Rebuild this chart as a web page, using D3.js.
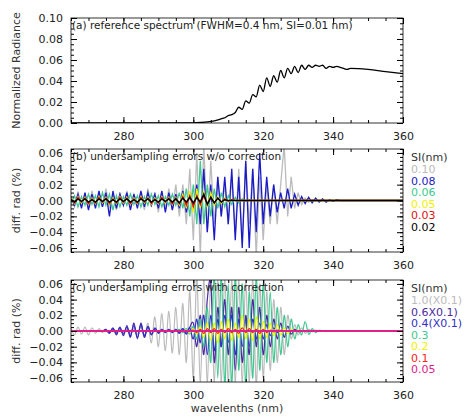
<!DOCTYPE html>
<html><head><meta charset="utf-8">
<script src="https://cdn.jsdelivr.net/npm/d3@7"></script>
<style>body{margin:0;background:#fff}text{font-family:"DejaVu Sans",sans-serif}</style>
</head><body><svg id="c" width="474" height="420"></svg>
<script>
// Panel (a) reference spectrum
const specWl = [265,280,295,300,302,304,306,308,309,310,311,312,313,314,315,316,317,318,319,320,321,322,323,324,325,326,327,328,329,330,331,332,333,334,335,336,337,338,339,340,341,342,343,344,345,350,355,360];
const specVal = [0,0,0,0.0002,0.0005,0.001,0.002,0.004,0.005,0.007,0.008,0.010,0.015,0.013,0.021,0.019,0.027,0.025,0.036,0.030,0.043,0.035,0.045,0.039,0.050,0.043,0.052,0.047,0.054,0.048,0.055,0.051,0.055,0.053,0.055,0.054,0.055,0.052,0.054,0.053,0.054,0.053,0.052,0.051,0.052,0.051,0.049,0.047];
// Panel (b): errors without correction, values in %, 1 nm steps from 265 nm
const bStart = 265;
const b010 = [0.005,-0.008,0.01,-0.005,0.008,-0.01,0.012,-0.006,0.01,-0.008,0.015,-0.01,0.008,-0.012,0.01,-0.006,0.012,-0.01,0.008,-0.005,0.01,-0.012,0.015,-0.008,0.01,-0.015,0.012,-0.01,0.015,-0.012,0.02,-0.02,0.02,-0.03,0.04,-0.05,0.06,-0.07,0.07,-0.04,0.05,-0.03,0.03,-0.02,0.02,-0.03,0.03,-0.04,0.04,-0.05,0.05,-0.03,0.04,-0.07,0.03,-0.05,0.02,-0.03,0.02,-0.03,0.02,0.07,-0.02,0.03,-0.01,0.01,-0.005,0.003,-0.002,0.001,0,0];
const b008 = [0.004,-0.006,0.008,-0.01,0.01,-0.012,0.008,-0.01,0.012,-0.008,0.01,-0.02,0.012,-0.01,0.008,-0.006,0.01,-0.012,0.008,-0.01,0.012,-0.008,0.01,-0.006,0.008,-0.01,0.012,-0.015,0.01,-0.012,0.008,-0.01,0.012,-0.015,0.01,-0.012,0.02,-0.03,0.04,-0.04,0.02,-0.05,0.03,-0.02,0.03,-0.03,0.04,-0.05,0.03,-0.06,0.05,-0.06,0.04,-0.04,0.06,-0.03,0.03,-0.02,0.02,-0.015,0.01,-0.01,0.015,-0.01,0.008,-0.006,0.005,-0.004,0.004,-0.003,0.003,-0.002,0.002,-0.002,0.001,-0.001,0.001,0,0,0,0];
const b006 = [-0.004,0.006,-0.008,0.005,-0.006,0.008,-0.005,0.006,-0.008,0.01,-0.006,0.008,-0.012,0.006,-0.008,0.005,-0.006,0.008,-0.005,0.006,-0.008,0.005,-0.006,0.008,-0.005,0.006,-0.008,0.005,-0.006,0.008,-0.006,0.01,-0.01,0.015,-0.02,0.02,-0.03,0.05,-0.03,0.02,-0.02,0.015,-0.01,0.01,-0.008,0.006,-0.005,0.004,-0.003,0.002,-0.001,0.001,0,0];
const b005 = [0.003,-0.004,0.005,-0.003,0.004,-0.005,0.003,-0.004,0.005,-0.003,0.004,-0.005,0.003,-0.004,0.005,-0.003,0.004,-0.005,0.003,-0.004,0.005,-0.003,0.004,-0.005,0.003,-0.004,0.005,-0.003,0.004,-0.005,0.004,-0.006,0.008,-0.01,0.012,-0.015,0.015,-0.01,0.012,-0.008,0.01,-0.006,0.005,-0.004,0.003,-0.002,0.001,0,0];
const b003 = [0.002,-0.003,0.004,-0.002,0.003,-0.004,0.002,-0.003,0.004,-0.002,0.003,-0.004,0.002,-0.003,0.004,-0.002,0.003,-0.004,0.002,-0.003,0.004,-0.002,0.003,-0.004,0.002,-0.003,0.004,-0.002,0.003,-0.004,0.003,-0.004,0.005,-0.006,0.006,-0.008,0.006,-0.005,0.006,-0.004,0.004,-0.003,0.003,-0.002,0.002,-0.001,0.001,0,0,0,0];
const b002 = [0.001,-0.002,0.002,-0.001,0.002,-0.002,0.001,-0.002,0.002,-0.001,0.002,-0.002,0.001,-0.002,0.002,-0.001,0.002,-0.002,0.001,-0.002,0.002,-0.001,0.002,-0.002,0.001,-0.002,0.002,-0.001,0.002,-0.002,0.002,-0.003,0.003,-0.002,0.004,-0.003,0.004,-0.002,0.008,-0.005,0.004,-0.003,0.003,-0.002,0.001,0,0];
// Panel (c): errors with correction, 1 nm steps from 265 nm
const cStart = 265;
const c10 = [0.004,-0.005,0.005,-0.004,0.005,-0.005,0.004,-0.003,0.003,-0.002,0.002,-0.002,0.002,-0.002,0.002,-0.002,0.002,-0.003,0.003,-0.004,0.005,-0.008,0.01,-0.015,0.018,-0.02,0.022,-0.025,0.025,-0.028,0.03,-0.03,0.035,-0.04,0.05,-0.06,0.07,-0.07,0.07,-0.07,0.07,-0.07,0.07,-0.07,0.07,-0.07,0.07,-0.07,0.07,-0.07,0.07,-0.07,0.07,-0.07,0.06,-0.06,0.05,-0.05,0.04,-0.04,0.03,-0.03,0.02,-0.01,0.008,-0.005,0.004,-0.003,0.002,-0.001,0.001,0,0];
const c06 = [0,0,0,0,0,0,0,0,0,0,0.002,-0.003,0.004,-0.005,0.005,-0.006,0.007,-0.008,0.01,-0.01,0.01,-0.008,0.006,-0.005,0.004,-0.003,0.002,-0.002,0.002,-0.002,0.002,-0.003,0.003,-0.004,0.005,0.01,-0.02,0.02,-0.03,0.04,0.06,-0.04,0.03,-0.02,0.04,-0.03,0.03,-0.05,0.03,-0.04,0.02,-0.03,0.04,-0.02,0.03,-0.03,0.02,-0.02,0.015,-0.01,0.01,-0.008,0.006,-0.004,0.002,-0.001,0,0];
const c04 = [0,0,0,0,0,0,0,0,0,0,0.001,-0.002,0.003,-0.003,0.004,-0.004,0.005,-0.006,0.007,-0.008,0.008,-0.006,0.005,-0.004,0.003,-0.002,0.002,-0.002,0.002,-0.002,0.002,-0.002,0.003,-0.003,0.004,-0.01,0.015,-0.015,0.02,-0.03,0.02,-0.025,0.015,-0.02,0.02,-0.015,0.02,-0.03,0.015,-0.02,0.015,-0.02,0.015,-0.01,0.01,-0.01,0.008,-0.006,0.004,-0.002,0.001,0,0];
const c03 = [0,0,0,0,0,0,0,0,0,0,0,0,0,0,0,0,0,0,0,0,0,0,0,0,0,0,0,0,0,0,0,0.002,-0.002,0.003,-0.004,0.006,-0.01,0.015,-0.02,0.03,-0.04,0.07,-0.06,0.07,-0.07,0.06,-0.07,0.07,-0.05,0.06,-0.07,0.05,-0.06,0.07,-0.05,0.06,-0.04,0.05,-0.04,0.03,-0.03,0.02,-0.02,0.015,-0.01,0.008,-0.005,0.012,-0.004,0.003,-0.002,0.001,0,0];
const c02 = [0,0,0,0,0,0,0,0,0,0,0,0,0,0,0,0,0,0,0,0,0,0,0,0,0,0,0,0,0,0,0,0,0,0.001,-0.002,0.003,-0.004,0.005,-0.008,0.01,-0.012,0.01,-0.015,0.012,-0.01,0.015,-0.012,0.01,-0.008,0.02,-0.01,0.015,-0.012,0.018,-0.01,0.012,-0.008,0.01,-0.006,0.008,-0.005,0.004,-0.003,0.002,-0.001,0.001,0,0];
const c01 = [0,0,0,0,0,0,0,0,0,0,0,0,0,0,0,0,0,0,0,0,0,0,0,0,0,0,0,0,0,0,0,0,0,0,0,0.001,-0.002,0.002,-0.003,0.003,-0.002,0.003,-0.003,0.002,-0.002,0.003,-0.002,0.002,-0.003,0.004,-0.002,0.003,-0.002,0.002,-0.003,0.002,-0.002,0.001,-0.001,0.001,0,0];
const c005 = [0,0];
const xTicks = [280,300,320,340,360];
const legendB = ["0.10","0.08","0.06","0.05","0.03","0.02"];
const legendC = ["1.0(X0.1)","0.6X0.1)","0.4(X0.1)","0.3","0.2","0.1","0.05"];

const svg = d3.select("#c");
const X0 = 71, X1 = 403;
const x = d3.scaleLinear().domain([265,360]).range([X0,X1]);
const toPts = (start, vals) => vals.map((v,i)=>[start+i, v]);
let clipN = 0;
function panel(top, bottom, ydom, yticks, fmt, ylabel, title, series, legend){
  const y = d3.scaleLinear().domain(ydom).range([bottom, top]);
  const id = "clip"+(clipN++);
  svg.append("clipPath").attr("id",id).append("rect").attr("x",X0).attr("y",top).attr("width",X1-X0).attr("height",bottom-top);
  const g = svg.append("g").attr("clip-path",`url(#${id})`);
  series.forEach(s=>{
    g.append("path").datum(s.pts).attr("fill","none").attr("stroke",s.color).attr("stroke-width",s.w||1.2)
      .attr("d", d3.line().x(d=>x(d[0])).y(d=>y(d[1])).curve(s.curve||d3.curveLinear));
  });
  svg.append("rect").attr("x",X0).attr("y",top).attr("width",X1-X0).attr("height",bottom-top).attr("fill","none").attr("stroke","#000").attr("stroke-width",0.8);
  const minorX = d3.range(265,361,5);
  const ax = (sel)=>sel.attr("font-size",11).call(g=>g.select(".domain").remove());
  svg.append("g").attr("transform",`translate(0,${bottom})`).call(d3.axisBottom(x).tickValues(xTicks).tickSize(-6).tickPadding(9)).call(ax);
  svg.append("g").attr("transform",`translate(0,${bottom})`).call(d3.axisBottom(x).tickValues(minorX).tickSize(-3).tickFormat("")).call(ax);
  svg.append("g").attr("transform",`translate(0,${top})`).call(d3.axisTop(x).tickValues(xTicks).tickSize(-6).tickFormat("")).call(ax);
  svg.append("g").attr("transform",`translate(0,${top})`).call(d3.axisTop(x).tickValues(minorX).tickSize(-3).tickFormat("")).call(ax);
  const step = yticks[1]-yticks[0];
  const minorY = d3.range(ydom[0], ydom[1]+1e-9, step/4);
  svg.append("g").attr("transform",`translate(${X0},0)`).call(d3.axisLeft(y).tickValues(yticks).tickSize(-6).tickPadding(8).tickFormat(fmt)).call(ax);
  svg.append("g").attr("transform",`translate(${X0},0)`).call(d3.axisLeft(y).tickValues(minorY).tickSize(-3).tickFormat("")).call(ax);
  svg.append("g").attr("transform",`translate(${X1},0)`).call(d3.axisRight(y).tickValues(yticks).tickSize(-6).tickFormat("")).call(ax);
  svg.append("g").attr("transform",`translate(${X1},0)`).call(d3.axisRight(y).tickValues(minorY).tickSize(-3).tickFormat("")).call(ax);
  svg.selectAll(".tick text").attr("fill","#222");
  svg.append("text").attr("x",72).attr("y",top+11).attr("font-size",10.5).attr("fill","#222").text(title);
  svg.append("text").attr("transform",`translate(20,${(top+bottom)/2}) rotate(-90)`).attr("text-anchor","middle").attr("font-size",11).attr("fill","#333").text(ylabel);
  if(legend){
    svg.append("text").attr("x",411).attr("y",top+12).attr("font-size",11).attr("fill","#333").text("SI(nm)");
    legend.forEach((l,i)=>svg.append("text").attr("x",411).attr("y",top+24+i*11.5).attr("font-size",11).attr("fill",l.color).text(l.label));
  }
}
const f2 = d3.format(".2f");
const fneg = v => (v<0?"\u2212":"")+f2(Math.abs(v));
panel(18,123,[0,0.1],[0,0.02,0.04,0.06,0.08,0.10],f2,"Normalized Radiance","(a) reference spectrum (FWHM=0.4 nm, SI=0.01 nm)",
  [{pts: specWl.map((w,i)=>[w,specVal[i]]), color:"#000", w:1.3, curve:d3.curveMonotoneX}], null);
const bCols = ["#bbbbbb","#1a1ac8","#40c890","#f0f000","#e01010","#000"];
const bSer = [b010,b008,b006,b005,b003,b002];
panel(149,252,[-0.065,0.065],[-0.06,-0.04,-0.02,0,0.02,0.04,0.06],fneg,"diff. rad (%)","(b) undersampling errors w/o correction",
  bSer.map((s,i)=>({pts:toPts(bStart,s.concat(new Array(Math.max(0,96-s.length)).fill(0))),color:bCols[i],w:i==5?1.5:1.3})),
  legendB.map((l,i)=>({label:l,color:bCols[i]})));
const cCols = ["#bbbbbb","#4a2aa0","#3030c8","#40c890","#f0f000","#ff2020","#e0208a"];
const cSer = [c10,c06,c04,c03,c02,c01,c005];
panel(280,382,[-0.065,0.065],[-0.06,-0.04,-0.02,0,0.02,0.04,0.06],fneg,"diff. rad (%)","(c) undersampling errors with correction",
  cSer.map((s,i)=>({pts:toPts(cStart,s.concat(new Array(Math.max(0,96-s.length)).fill(0))),color:cCols[i],w:i==6?2.2:1.2,curve:d3.curveCardinal})),
  legendC.map((l,i)=>({label:l,color:cCols[i]})));
svg.append("text").attr("x",237).attr("y",412).attr("text-anchor","middle").attr("font-size",11).attr("fill","#333").text("wavelenths (nm)");
</script></body></html>
